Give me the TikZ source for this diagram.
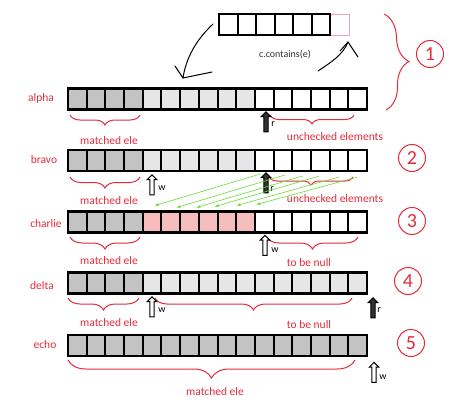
\documentclass[tikz,border=0pt]{standalone}
\usepackage{fontspec}
\setmainfont{Carlito}
\usetikzlibrary{calc,decorations.pathreplacing,shapes.arrows,arrows.meta}
\definecolor{redtxt}{HTML}{E42B3A}
\definecolor{darkcell}{HTML}{C3C3C3}
\definecolor{lightcell}{HTML}{E6E6E6}
\definecolor{pinkcell}{HTML}{F7BDBD}
\definecolor{pinkline}{HTML}{F2A6B8}
\definecolor{greenarr}{HTML}{66DD33}
\definecolor{graytxt}{HTML}{333333}
\begin{document}
\begin{tikzpicture}[x=1pt,y=-1pt,
  cell/.style={draw=black, line width=2pt, minimum width=18.69pt, minimum height=21pt, inner sep=0pt, outer sep=0pt},
  frame/.style={draw=black, line width=2.6pt},
  rowlabel/.style={text=redtxt, font=\fontsize{11.5}{13}\selectfont, inner sep=0pt},
  note/.style={text=redtxt, font=\fontsize{11.5}{13}\selectfont, inner sep=0pt},
  ptrlab/.style={text=black, font=\fontsize{10}{12}\selectfont, inner sep=0pt},
  rbrace/.style={draw=redtxt, line width=1pt, decorate, decoration={brace, mirror, amplitude=#1}},
  bigbrace/.style={draw=redtxt, line width=1pt, decorate, decoration={brace, amplitude=#1}},
  blk/.style={single arrow, draw=black, line width=1pt, shape border rotate=90, minimum height=20pt, minimum width=9pt, single arrow head extend=2.5pt, single arrow head indent=0pt, inner sep=1.6pt, fill=white},
  blkr/.style={blk, fill=black!80},
  stepnum/.style={circle, draw=redtxt, line width=1pt, text=redtxt, font=\fontsize{20}{20}\selectfont, inner sep=0pt, minimum size=27pt},
  hand/.style={draw=black, line width=1pt, line cap=round},
  green/.style={draw=greenarr, line width=0.6pt, -{Stealth[length=4pt,width=3pt]}}
]
\useasboundingbox (0,0) rectangle (474,404);

% ---------- top array ----------
\node[cell, draw=pinkline, line width=0.8pt, minimum width=18.57pt] (top-7) at ({219+18.57*6.5},24.5) {};
\foreach \i in {1,...,6} {
  \node[cell, minimum width=18.57pt] (top-\i) at ({219+18.57*(\i-0.5)},24.5) {};
}
\node[text=graytxt, font=\fontsize{10}{12}\selectfont] (cc) at (285,55) {c.contains(e)};

% hand drawn arrows
\coordinate (la-s) at (213,24);
\coordinate (la-e) at (183,78);
\draw[hand] (la-s) .. controls (196,40) and (186,58) .. (la-e);
\draw[hand] (175,66) -- (la-e) -- (212,72);
\coordinate (ra-s) at (318,71);
\coordinate (ra-e) at (348,42);
\draw[hand] (ra-s) .. controls (330,63) and (343,55) .. (ra-e);
\draw[hand] (340,51) -- (ra-e) -- (358,57);

% ---------- rows ----------
% alpha
\foreach \i in {1,...,4} {\node[cell, fill=darkcell] (alpha-\i) at ({68+18.6875*(\i-0.5)},99) {};}
\foreach \i in {5,...,10} {\node[cell, fill=lightcell] (alpha-\i) at ({68+18.6875*(\i-0.5)},99) {};}
\foreach \i in {11,...,16} {\node[cell, fill=white] (alpha-\i) at ({68+18.6875*(\i-0.5)},99) {};}
\draw[frame] (alpha-1.north west) rectangle (alpha-16.south east);
% bravo
\foreach \i in {1,...,4} {\node[cell, fill=darkcell] (bravo-\i) at ({68+18.6875*(\i-0.5)},160.5) {};}
\foreach \i in {5,...,10} {\node[cell, fill=lightcell] (bravo-\i) at ({68+18.6875*(\i-0.5)},160.5) {};}
\foreach \i in {11,...,16} {\node[cell, fill=white] (bravo-\i) at ({68+18.6875*(\i-0.5)},160.5) {};}
\draw[frame] (bravo-1.north west) rectangle (bravo-16.south east);
% charlie
\foreach \i in {1,...,4} {\node[cell, fill=darkcell] (charlie-\i) at ({68+18.6875*(\i-0.5)},222) {};}
\foreach \i in {5,...,10} {\node[cell, fill=pinkcell] (charlie-\i) at ({68+18.6875*(\i-0.5)},222) {};}
\foreach \i in {11,...,16} {\node[cell, fill=white] (charlie-\i) at ({68+18.6875*(\i-0.5)},222) {};}
\draw[frame] (charlie-1.north west) rectangle (charlie-16.south east);
% delta
\foreach \i in {1,...,4} {\node[cell, fill=darkcell] (delta-\i) at ({68+18.6875*(\i-0.5)},283) {};}
\foreach \i in {5,...,16} {\node[cell, fill=lightcell] (delta-\i) at ({68+18.6875*(\i-0.5)},283) {};}
\draw[frame] (delta-1.north west) rectangle (delta-16.south east);
% echo
\foreach \i in {1,...,16} {\node[cell, fill=darkcell] (echo-\i) at ({68+18.6875*(\i-0.5)},345.5) {};}
\draw[frame] (echo-1.north west) rectangle (echo-16.south east);

% row labels
\node[rowlabel] (l-alpha) at (41,98) {alpha};
\node[rowlabel] (l-bravo) at (44,160) {bravo};
\node[rowlabel] (l-charlie) at (46,224) {charlie};
\node[rowlabel] (l-delta) at (42,286) {delta};
\node[rowlabel] (l-echo) at (45,345) {echo};

% ---------- braces and notes ----------
\draw[rbrace=10] (70,115) -- (140,115);
\node[note] (n-a1) at (109,141) {matched ele};
\draw[rbrace=9] (270,115) -- (354,115);
\node[note] (n-a2) at (335,137) {unchecked elements};

\draw[rbrace=11] (70,177) -- (140,177);
\node[note] (n-b1) at (109,201) {matched ele};
\draw[rbrace=8] (269,177) -- (353,177);
\node[note] (n-b2) at (335,199) {unchecked elements};

\draw[rbrace=12] (70,237) -- (140,237);
\node[note] (n-c1) at (109,261) {matched ele};
\draw[rbrace=12] (267,237) -- (358,237);
\node[note] (n-c2) at (309,263) {to be null};

\draw[rbrace=12] (68,298) -- (139,298);
\node[note] (n-d1) at (109,323) {matched ele};
\draw[rbrace=12] (155,298) -- (352,298);
\node[note] (n-d2) at (309,325) {to be null};

\draw[rbrace=18] (68,360) -- (355,360);
\node[note] (n-e1) at (215,392) {matched ele};

% big brace and step numbers
\draw[bigbrace=24] (384,14) -- (386,110);
\node[stepnum] (s1) at (430,54) {1};
\node[stepnum] (s2) at (412,158) {2};
\node[stepnum] (s3) at (412,221) {3};
\node[stepnum] (s4) at (408,281) {4};
\node[stepnum] (s5) at (411,343) {5};

% ---------- pointers ----------
\node[blkr] (ptr-ar) at (266,123) {};
\node[ptrlab] (lab-ar) at (273,124) {r};
\node[blk] (ptr-bw) at (152,186) {};
\node[ptrlab] (lab-bw) at (162,188) {w};
\node[blkr] (ptr-br) at (266,184) {};
\node[ptrlab] (lab-br) at (272,189) {r};
\node[blk] (ptr-cw) at (265,246.5) {};
\node[ptrlab] (lab-cw) at (275,250) {w};
\node[blk] (ptr-dw) at (152,308) {};
\node[ptrlab] (lab-dw) at (162,310) {w};
\node[blkr] (ptr-dr) at (373,309) {};
\node[ptrlab] (lab-dr) at (379,310) {r};
\node[blk] (ptr-ew) at (374,373.5) {};
\node[ptrlab] (lab-ew) at (383,377) {w};

% ---------- green move arrows ----------
\foreach \s/\e/\sx/\sy/\ex/\ey in {11/5/-4/3/3/-6, 12/6/2/4/6/-4, 13/7/1/5/7/-4, 14/8/-1/5/7/-5, 15/9/0/6/10/-6, 16/10/0/6/11/-7} {
  \draw[green] ($(bravo-\s.south)+(\sx,\sy)$) -- ($(charlie-\e.north)+(\ex,\ey)$);
}
\end{tikzpicture}
\end{document}
